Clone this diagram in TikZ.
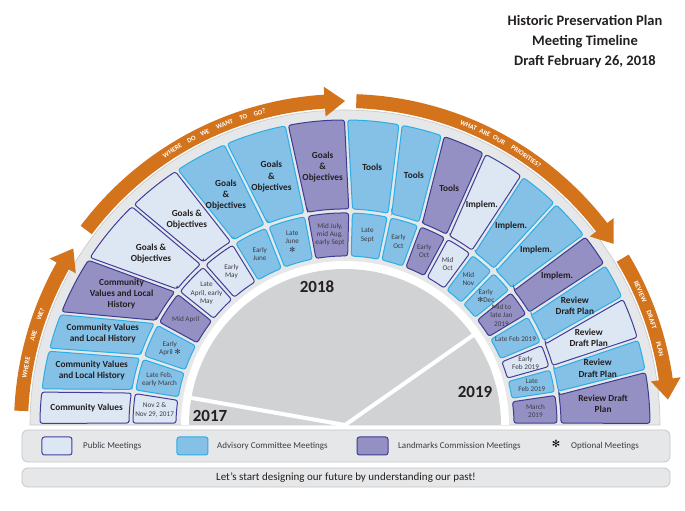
\documentclass[tikz,border=0pt]{standalone}
\usepackage{fontspec}
\setmainfont{Carlito}
\newfontfamily\symfont{DejaVu Sans}
\definecolor{pubfill}{HTML}{DDE7F3}
\definecolor{publine}{HTML}{3F3F9B}
\definecolor{advfill}{HTML}{85C0E6}
\definecolor{advline}{HTML}{2AAEE6}
\definecolor{lmcfill}{HTML}{9590C4}
\definecolor{lmcline}{HTML}{3D3C92}
\definecolor{arrowc}{HTML}{D3731C}
\definecolor{ring}{HTML}{E6E7E8}
\definecolor{ringline}{HTML}{C6C7C9}
\definecolor{pie}{HTML}{D1D2D4}
\definecolor{inkc}{HTML}{231F20}
\definecolor{datec}{HTML}{3C3C46}
\newcommand\optmark{{\symfont ✻}}
% orange phase arrow: start angle, tip angle
\newcommand\phasearrow[2]{%
  \fill[arrowc] (#1:317) arc[start angle=#1, end angle=#2+3.6, radius=317]
    -- ({#2+3.6}:309) -- (#2:324) -- ({#2+3.6}:339) -- ({#2+3.6}:331)
    arc[start angle=#2+3.6, end angle=#1, radius=331] -- cycle;}

\begin{document}
\begin{tikzpicture}[x=1pt, y=1pt,
    every node/.style={inner sep=0pt},
    pub/.style={draw=publine, fill=pubfill, line width=1pt, rounded corners=2.5pt},
    adv/.style={draw=advline, fill=advfill, line width=1pt, rounded corners=2.5pt},
    lmc/.style={draw=lmcline, fill=lmcfill, line width=1pt, rounded corners=2.5pt},
    topic/.style={align=center, text=inkc, font=\fontsize{9.3}{11.2}\selectfont\bfseries},
    when/.style={align=center, text=datec, font=\fontsize{7.2}{8.4}\selectfont},
    phase/.style={text=white, font=\fontsize{6.8}{6.8}\selectfont\bfseries},
    yearlbl/.style={text=inkc, font=\fontsize{17}{17}\selectfont\bfseries},
    panel/.style={fill=ring, draw=ringline, line width=0.8pt, rounded corners=6pt},
    legtext/.style={anchor=west, text=datec, font=\fontsize{9}{9}\selectfont},
    heading/.style={align=center, text=inkc, font=\fontsize{14.5}{20}\selectfont\bfseries}
  ]
  \useasboundingbox (-345,-86) rectangle (340,425);

  % title
  \node[heading] (heading) at (240,383) {Historic Preservation Plan\\Meeting Timeline\\Draft February 26, 2018};

  % background half disc and year pie
  \filldraw[fill=ring, draw=ringline, line width=0.6pt] (-315,0) arc[start angle=180, end angle=0, radius=315] -- cycle;
  \fill[white] (-164,0) arc[start angle=180, end angle=0, radius=164] -- cycle;
  \fill[pie] (-156,0) arc[start angle=180, end angle=0, radius=156] -- cycle;
  \draw[white, line width=4pt] (0,0) -- (170:158) (0,0) -- (35:158);
  \node[yearlbl] (y2017) at (-135,9) {2017};
  \node[yearlbl] (y2018) at (-28,138) {2018};
  \node[yearlbl] (y2019) at (130,33) {2019};

  % meetings: style / inner angles / outer angles / topic / date
  \foreach \sty/\ai/\bi/\ao/\bo/\topic/\when [count=\i] in {
      pub/180/171/180/173.5/{Community Values}/{Nov 2 \&\\Nov 29, 2017},
      adv/171/161.5/173.5/165.7/{Community Values\\and Local History}/{Late Feb,\\early March},
      adv/161.5/151.5/165.7/158.5/{Community Values\\and Local History}/{Early\\April \optmark},
      lmc/151.5/141.5/158.5/147/{Community\\Values and Local\\History}/{Mid April},
      pub/141.5/131.5/147/134/{Goals \&\\Objectives}/{Late\\April, early\\May},
      pub/131.5/121.5/134/123.5/{Goals \&\\Objectives}/{Early\\May},
      adv/121.5/111.5/123.5/113/{Goals\\\&\\Objectives}/{Early\\June},
      adv/111.5/100.5/113/101/{Goals\\\&\\Objectives}/{Late\\June\\\optmark},
      lmc/100.5/88.5/101/89.8/{Goals\\\&\\Objectives}/{Mid July,\\mid Aug,\\early Sept},
      adv/88.5/78/89.8/79.5/{Tools}/{Late\\Sept},
      adv/78/69.5/79.5/71.3/{Tools}/{Early\\Oct},
      lmc/69.5/61.5/71.3/62.8/{Tools}/{Early\\Oct},
      pub/61.5/53.5/62.8/54.5/{Implem.}/{Mid\\Oct},
      adv/53.5/46/54.5/46.5/{Implem.}/{Mid\\Nov},
      adv/46/39/46.5/38.3/{Implem.}/{Early\\\optmark Dec},
      lmc/39/31/38.3/31.7/{Implem.}/{Mid to\\late Jan\\2019},
      adv/31/22.5/31.7/24.6/{Review\\Draft Plan}/{Late Feb 2019},
      pub/22.5/15.5/24.6/16.4/{Review\\Draft Plan}/{Early\\Feb 2019},
      adv/15.5/8.5/16.4/10.2/{Review\\Draft Plan}/{Late\\Feb 2019},
      lmc/8.5/0/10.2/0/{Review Draft\\Plan}/{March\\2019}} {
    \draw[\sty] ({\ai-0.6}:169) arc[start angle=\ai-0.6, end angle=\bi+0.6, radius=169]
      -- ({\bi+0.5}:212) arc[start angle=\bi+0.5, end angle=\ai-0.5, radius=212] -- cycle;
    \draw[\sty] ({\ai-0.5}:216) -- ({\ao-0.3}:305) arc[start angle=\ao-0.3, end angle=\bo+0.3, radius=305]
      -- ({\bi+0.5}:216) arc[start angle=\bi+0.5, end angle=\ai-0.5, radius=216] -- cycle;
    \node[topic] (topic\i) at ({(\ai+\bi+\ao+\bo)/4}:259) {\topic};
    \node[when] (date\i) at ({(\ai+\bi)/2}:191) {\when};
  }

  % phase arrows and their words
  \phasearrow{177.5}{147}
  \phasearrow{143}{90}
  \phasearrow{88}{34}
  \phasearrow{31}{4.5}
  \foreach \word/\ang [count=\j] in {WHERE/169.8, ARE/164, WE?/160,
      WHERE/122.2, DO/118.3, WE/115.6, WANT/111.8, TO/108.3, GO?/105.3,
      WHAT/67.6, ARE/64.4, OUR/61.6, PRIORITIES?/56,
      REVIEW/24.3, DRAFT/18.9, PLAN/13.6}
    \node[phase, rotate=\ang-90] (phase\j) at (\ang:324) {\word};

  % legend
  \draw[panel] (-323,-5) rectangle (325,-37);
  \draw[pub] (-303,-12) rectangle (-273,-30);
  \node[legtext] (legpub) at (-262,-21) {Public Meetings};
  \draw[adv] (-168,-12) rectangle (-137,-30);
  \node[legtext] (legadv) at (-128,-21) {Advisory Committee Meetings};
  \draw[lmc] (12,-12) rectangle (43,-30);
  \node[legtext] (leglmc) at (53,-21) {Landmarks Commission Meetings};
  \node (legstar) at (211,-19) {\fontsize{10}{10}\selectfont\optmark};
  \node[legtext] (legopt) at (226,-21) {Optional Meetings};

  % motto
  \draw[panel] (-323,-43) rectangle (325,-62);
  \node[text=inkc, font=\fontsize{11}{11}\selectfont] (motto) at (1,-52.5) {Let's start designing our future by understanding our past!};
\end{tikzpicture}
\end{document}
